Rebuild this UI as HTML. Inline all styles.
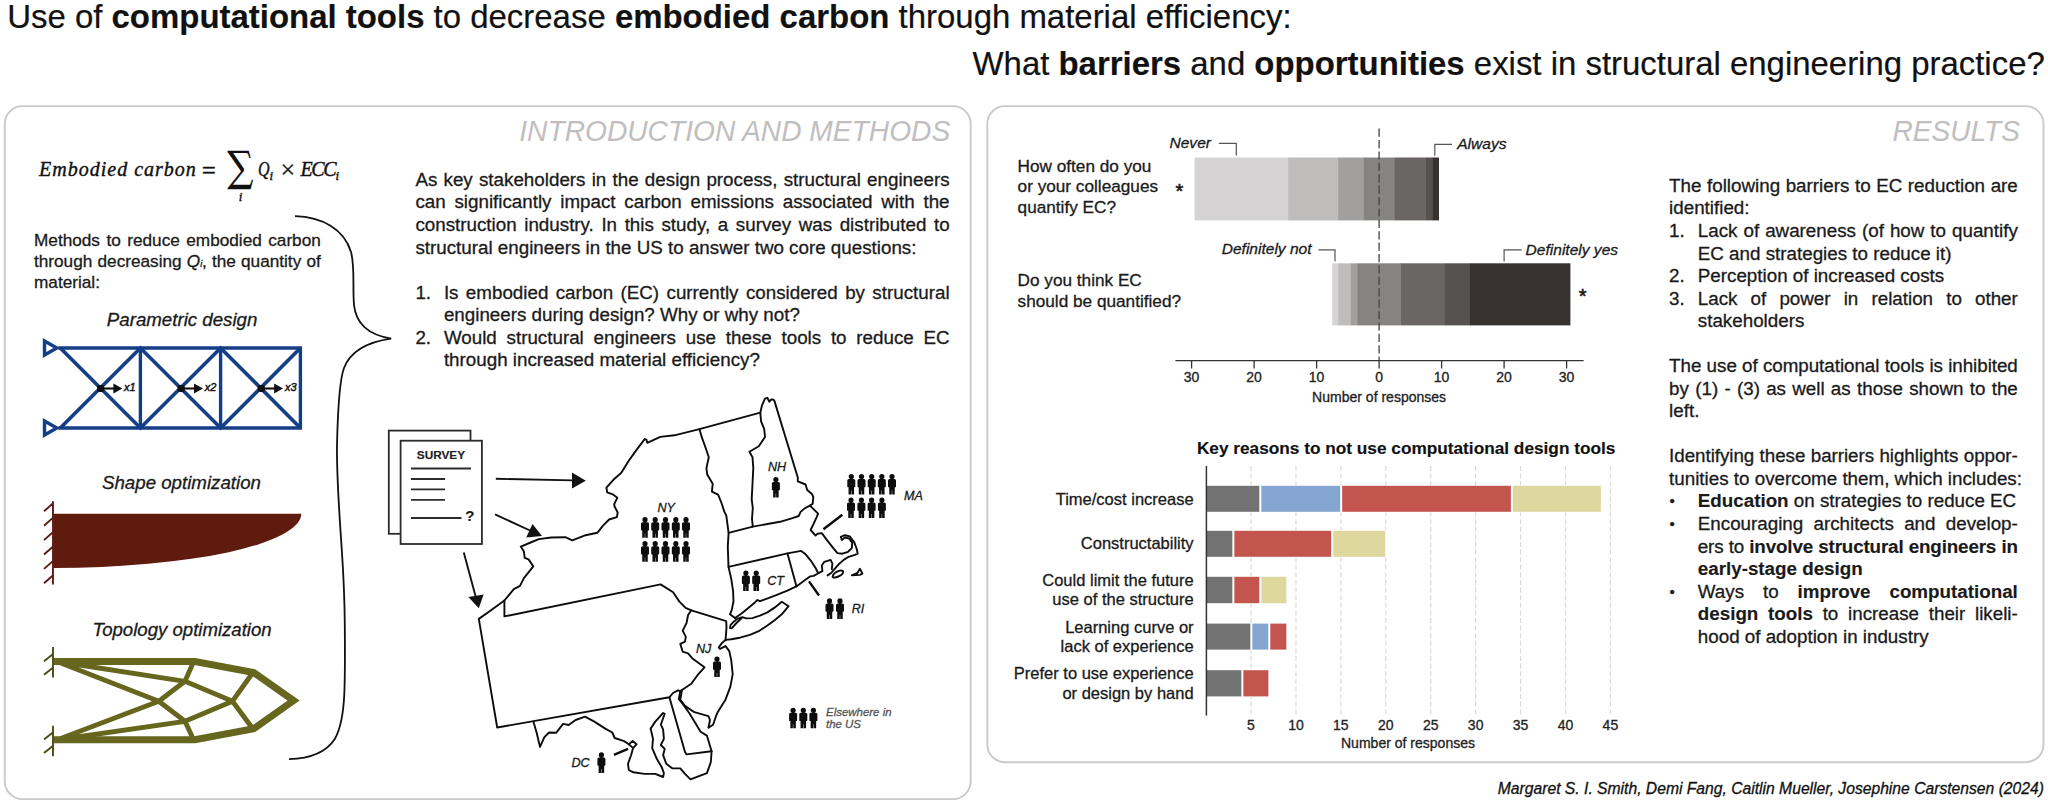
<!DOCTYPE html>
<html lang="en">
<head>
<meta charset="utf-8">
<title>Use of computational tools to decrease embodied carbon through material efficiency</title>
<style>
html,body{margin:0;padding:0;background:#fff;}
body{width:2048px;height:801px;position:relative;overflow:hidden;font-family:"Liberation Sans", sans-serif;color:#1a1a1a;}
#page div{position:absolute;white-space:nowrap;-webkit-text-stroke:0.3px currentColor;}
#page div b{-webkit-text-stroke:0.15px currentColor;}
svg{position:absolute;left:0;top:0;}
</style>
</head>
<body>
<div id="page">
<svg width="2048" height="801" viewBox="0 0 2048 801">
<rect x="4.75" y="106.1" width="965.95" height="693.0" rx="17.8" fill="#fff" stroke="#cbc9c9" stroke-width="1.9"/>
<rect x="987.3" y="106.1" width="1056.2" height="656.1" rx="17.8" fill="#fff" stroke="#cbc9c9" stroke-width="1.9"/>
<g id="truss" fill="none" stroke="#143f86" stroke-width="3.4" stroke-linejoin="miter">
<path d="M58.4 348H300.4V428H58.4M140.4 348V428M220.6 348V428"/>
<path d="M60.3 348L140.4 428L220.6 348L300.4 428M60.3 428L140.4 348L220.6 428L300.4 348" stroke-width="3.7"/>
<path d="M44.5 341V355L56.8 348ZM44.5 421V435L56.8 428Z" stroke-width="3.4"/>
</g>
<rect x="97.0" y="384.9" width="7.2" height="7.2" rx="2.4" fill="#111"/>
<path d="M103.6 388.5H114.6" stroke="#111" stroke-width="2.1" fill="none"/>
<path d="M113.4 383.6L122.4 388.5L113.4 393.4Z" fill="#111"/>
<rect x="177.6" y="384.9" width="7.2" height="7.2" rx="2.4" fill="#111"/>
<path d="M184.2 388.5H195.2" stroke="#111" stroke-width="2.1" fill="none"/>
<path d="M194.0 383.6L203.0 388.5L194.0 393.4Z" fill="#111"/>
<rect x="257.7" y="384.9" width="7.2" height="7.2" rx="2.4" fill="#111"/>
<path d="M264.3 388.5H275.3" stroke="#111" stroke-width="2.1" fill="none"/>
<path d="M274.1 383.6L283.1 388.5L274.1 393.4Z" fill="#111"/>
<path d="M53.5 513.8H301.3A247.8 54.2 0 0 1 53.5 568Z" fill="#601b0f"/>
<path d="M53 501.3V584.5M53.4 503.0L44 511.3M53.4 517.4L44 525.7M53.4 531.8L44 540.1M53.4 546.2L44 554.5M53.4 560.6L44 568.9M53.4 575.0L44 583.3" fill="none" stroke="#5a1c15" stroke-width="1.9"/>
<g id="topo" fill="none" stroke="#66661f" stroke-linejoin="round" stroke-linecap="round">
<path d="M53.6 661.6H195L253.8 672.6L293.6 700.6L253.8 728.6L195 739.8H53.6" stroke-width="7" stroke-linecap="butt" stroke-linejoin="miter"/>
<path d="M62 663.5L158.8 701.2L62 738M70 663.5L185 681.3M70 738L185 721.3M158.8 701.2L185 681.3M158.8 701.2L185 721.3M185 681.3L232.5 701.2L185 721.3M193 663L185 681.3M193 738.5L185 721.3M232.5 701.2L251.5 674.5M232.5 701.2L251.5 727" stroke-width="4.9"/>
</g>
<path d="M53 647V677.5M53 725.8V756.3M53.4 653.7L44 661.3M53.4 667.2L44 674.8M53.4 732.0L44 739.6M53.4 745.5L44 753.1" fill="none" stroke="#4c4c18" stroke-width="1.9"/>
<path d="M295 216.2C322 217 344 229 351 252C355 266 352.5 288 354 305C356 324 369 335 391.2 338.6C367 342 350.5 351 344 368C339.5 380 337.8 410 337 445C336.6 480 339.5 515 341.8 550C343.5 575 344.6 600 344.8 625C345 650 345.2 675 344.3 694C343.5 712 341 728 334.8 739C327 751 312 758.5 289 759.2" fill="none" stroke="#111" stroke-width="1.8"/>
<g fill="#fff" stroke="#2b2b2b" stroke-width="1.8">
<rect x="388.8" y="430.6" width="81.7" height="103.2"/>
<rect x="400.6" y="440.7" width="81.3" height="103.3"/>
<path d="M411 468.5H471M411 479H445M411 489.3H445M411 499.8H445M411 518H461.5" fill="none" stroke-width="1.8"/>
</g>
<g stroke="#111" stroke-width="1.9" fill="#111">
<path d="M495.8 478.8L573 480.4" fill="none"/><path d="M572 472.6L585.8 480.7L572 488.4Z" stroke="none"/>
<path d="M495 514.4L530 530.5" fill="none"/><path d="M532.5 524L542 536L526.2 537.5Z" stroke="none"/>
<path d="M463.8 552.5L475.5 596" fill="none"/><path d="M468.4 597L483.6 594.6L478.8 608.2Z" stroke="none"/>
</g>
<g id="map" fill="none" stroke="#0c0c0c" stroke-width="1.9" stroke-linejoin="round" stroke-linecap="round">
<path d="M644.7 439.2L646.4 439.6L647.2 442.8L660.3 436.9L674.4 435.3L699.4 429.1L701.7 436.9L705.6 447.8L708.8 457.2L706.4 468.1L707.2 474.4L712.7 483.8L711.9 491.6L718.1 494.7L721.5 503.0L724.4 511.9L726.3 515.6L728.6 532.8L727.8 546.9L728.5 566.9L731.2 578.7L733.1 591.2L733.5 601.2L731.8 609.9L730.0 614.3L735.0 618.1"/>
<path d="M644.7 439.2L636.9 449.4L629.1 460.3L621.3 472.8L613.4 479.8L606.4 487.7L607.2 492.3L613.4 494.7L617.3 497.8L614.2 504.1L614.5 506.3L617.7 512.5L616.9 517.2L609.1 519.5L602.8 525.8L597.3 532.8L585.6 535.2L572.3 540.3L565.3 537.2L551.3 537.5L538.8 539.1L529.4 543.0L520.8 546.6L523.9 551.6L524.7 557.8L528.6 559.4L533.3 566.4L523.9 578.1L520.0 585.9L513.8 589.1L504.4 600.5L490.0 611.0L478.8 618.9L497.2 727.5L669.4 697.3L673.0 693.0L678.0 690.3L680.3 691.1"/>
<path d="M504.4 600.5L504.4 616.4L660.6 584.4L673.1 592.2L679.4 601.6L685.6 607.8L691.3 610.3L712.5 616.8L726.2 621.2L726.5 627.4L725.6 639.9"/>
<path d="M691.3 610.3L688.1 615.0L686.6 622.8L682.7 630.6L685.8 636.9L685.0 641.6L680.3 643.9L682.7 651.7L688.1 653.3L692.8 658.8L704.5 667.3L697.5 675.2L691.3 683.8L681.9 690.0L680.3 691.1L678.8 698.9"/>
<path d="M725.6 639.9L722.5 642.4L718.7 647.4L720.0 648.9L725.6 646.1L729.3 651.1L731.2 659.9L732.7 674.4L730.3 686.9L725.6 699.4L717.8 711.9L716.3 715.3L713.1 724.7L708.4 727.8L710.0 720.0L708.4 716.1L694.4 712.2L685.0 705.9L680.3 699.7L681.9 690.3"/>
<path d="M725.6 639.9L731.2 639.3L739.9 637.7L749.9 634.9L758.7 631.2L767.4 625.5L774.9 619.9L782.4 613.7L788.6 606.2L781.8 601.8L774.9 607.4L767.4 612.4L759.9 615.6L752.4 618.1L746.2 618.4L742.4 617.2L737.5 618.7L734.3 621.2L730.6 624.9L730.0 628.0L731.6 628.4L736.0 623.5L742.4 617.2"/>
<path d="M699.4 429.1L760.3 412.7L761.9 405.6L765.0 398.6L767.3 397.8L769.4 401.7L771.3 399.4L773.6 399.7L774.4 400.9L797.8 477.5L797.8 481.4L805.6 484.5L807.2 490.0L811.9 493.9L813.3 497.0L812.7 503.7L810.0 505.6L818.1 513.7L816.8 516.9L813.7 523.7L810.6 530.0L815.6 535.6L817.5 533.7L821.8 533.1L827.4 540.6L833.7 548.7L837.4 553.1L842.4 553.7L848.0 551.8L851.8 548.1L852.2 543.1L849.3 538.7L844.9 537.5L841.8 540.0L840.8 536.8L844.9 535.2L849.9 536.5L854.3 542.4L856.8 549.3L857.7 553.7L854.9 554.9L848.7 556.8L843.7 559.9L838.7 564.3L834.9 568.7L831.2 573.0L827.6 575.4"/>
<path d="M760.3 412.7L761.1 421.3L764.2 429.1L765.0 436.9L758.8 446.3L749.4 451.7L752.5 457.2L753.3 468.1L752.5 483.8L751.7 499.4L752.8 507.8L752.0 518.8L752.8 526.6"/>
<path d="M728.6 532.8L752.8 526.6L780.0 521.8L792.5 518.1L798.7 516.0L800.6 511.9L805.0 508.1L810.0 505.6"/>
<path d="M728.5 566.9L787.5 553.4L801.2 550.9L805.0 553.7L811.2 561.2L815.6 568.0L818.1 573.0"/>
<path d="M787.5 553.4L796.5 586.5"/>
<path d="M735.0 618.1L741.2 613.7L747.4 608.7L754.9 602.4L757.4 600.0L759.9 601.2L774.9 595.6L787.4 590.6L796.8 586.2L803.7 581.1L810.0 576.4L813.7 575.9L817.5 573.7L822.4 571.2L821.8 565.5L824.3 561.8L830.6 559.9L832.4 563.7L831.8 569.3"/>
<path d="M832.6 576.4C833.3 573.7 836.8 571.4 839.8 570.6C842.3 570 843.8 571.2 843 572.8C841.8 575.2 837.8 577.2 835 577.5C833.3 577.7 832.3 577.4 832.6 576.4Z"/>
<path d="M851.8 575.3L857.4 573.0L859.9 568.7L862.4 573.7L859.9 574.9Z"/>
<path d="M669.4 697.3L685.0 752.0L686.6 754.4L711.6 751.3"/>
<path d="M678.8 698.9L681.9 702.8L689.7 713.8L694.4 721.6L700.6 731.7L706.9 735.6L711.6 751.3L710.8 762.2L706.9 773.1L690.5 779.4L685.0 773.9L680.3 768.4L672.5 768.4L666.3 763.8L663.1 755.2L664.7 748.9L660.8 745.0L663.9 738.8L663.1 729.4L660.8 724.7L664.7 713.8L663.1 713.0L655.3 721.6L650.6 728.6L653.0 738.8L652.2 748.1L656.9 759.1L661.6 766.9L663.9 773.1L663.1 777.0L655.3 773.9L644.4 773.9L633.4 772.3L628.8 770.0L628.0 763.8L631.1 755.2L633.1 748.1L636.6 744.2L632.7 741.1L628.8 744.2L633.1 748.1"/>
<path d="M628.8 744.2L624.1 741.1L614.7 738.0L612.3 732.5L605.3 728.6L594.4 721.6L585.0 716.6L575.6 720.0L568.6 725.0L563.1 723.9L556.1 732.8L549.1 732.5L544.4 737.2L540.0 746.9L536.6 732.5L533.4 721.6"/>
<path d="M823.4 529.3L842.4 514.7M809 581.4L819 595.5M613.9 754.8L628 748.9" stroke-width="2.4" stroke-linecap="butt"/>
</g>
<g id="people" fill="#0d0d0d">
<circle cx="645.00" cy="519.70" r="2.60"/><path d="M643.80 521.20H646.20V522.20H647.50Q649.00 522.20 649.00 523.70V529.60Q649.00 530.50 648.10 530.50H647.75V537.70H645.20V533.70H644.80V537.70H642.25V530.50H641.90Q641.00 530.50 641.00 529.60V523.70Q641.00 522.20 642.50 522.20H643.80Z"/>
<circle cx="645.00" cy="543.70" r="2.60"/><path d="M643.80 545.20H646.20V546.20H647.50Q649.00 546.20 649.00 547.70V553.60Q649.00 554.50 648.10 554.50H647.75V561.70H645.20V557.70H644.80V561.70H642.25V554.50H641.90Q641.00 554.50 641.00 553.60V547.70Q641.00 546.20 642.50 546.20H643.80Z"/>
<circle cx="655.20" cy="519.70" r="2.60"/><path d="M654.00 521.20H656.40V522.20H657.70Q659.20 522.20 659.20 523.70V529.60Q659.20 530.50 658.30 530.50H657.95V537.70H655.40V533.70H655.00V537.70H652.45V530.50H652.10Q651.20 530.50 651.20 529.60V523.70Q651.20 522.20 652.70 522.20H654.00Z"/>
<circle cx="655.20" cy="543.70" r="2.60"/><path d="M654.00 545.20H656.40V546.20H657.70Q659.20 546.20 659.20 547.70V553.60Q659.20 554.50 658.30 554.50H657.95V561.70H655.40V557.70H655.00V561.70H652.45V554.50H652.10Q651.20 554.50 651.20 553.60V547.70Q651.20 546.20 652.70 546.20H654.00Z"/>
<circle cx="665.50" cy="519.70" r="2.60"/><path d="M664.30 521.20H666.70V522.20H668.00Q669.50 522.20 669.50 523.70V529.60Q669.50 530.50 668.60 530.50H668.25V537.70H665.70V533.70H665.30V537.70H662.75V530.50H662.40Q661.50 530.50 661.50 529.60V523.70Q661.50 522.20 663.00 522.20H664.30Z"/>
<circle cx="665.50" cy="543.70" r="2.60"/><path d="M664.30 545.20H666.70V546.20H668.00Q669.50 546.20 669.50 547.70V553.60Q669.50 554.50 668.60 554.50H668.25V561.70H665.70V557.70H665.30V561.70H662.75V554.50H662.40Q661.50 554.50 661.50 553.60V547.70Q661.50 546.20 663.00 546.20H664.30Z"/>
<circle cx="675.80" cy="519.70" r="2.60"/><path d="M674.60 521.20H677.00V522.20H678.30Q679.80 522.20 679.80 523.70V529.60Q679.80 530.50 678.90 530.50H678.55V537.70H676.00V533.70H675.60V537.70H673.05V530.50H672.70Q671.80 530.50 671.80 529.60V523.70Q671.80 522.20 673.30 522.20H674.60Z"/>
<circle cx="675.80" cy="543.70" r="2.60"/><path d="M674.60 545.20H677.00V546.20H678.30Q679.80 546.20 679.80 547.70V553.60Q679.80 554.50 678.90 554.50H678.55V561.70H676.00V557.70H675.60V561.70H673.05V554.50H672.70Q671.80 554.50 671.80 553.60V547.70Q671.80 546.20 673.30 546.20H674.60Z"/>
<circle cx="686.00" cy="519.70" r="2.60"/><path d="M684.80 521.20H687.20V522.20H688.50Q690.00 522.20 690.00 523.70V529.60Q690.00 530.50 689.10 530.50H688.75V537.70H686.20V533.70H685.80V537.70H683.25V530.50H682.90Q682.00 530.50 682.00 529.60V523.70Q682.00 522.20 683.50 522.20H684.80Z"/>
<circle cx="686.00" cy="543.70" r="2.60"/><path d="M684.80 545.20H687.20V546.20H688.50Q690.00 546.20 690.00 547.70V553.60Q690.00 554.50 689.10 554.50H688.75V561.70H686.20V557.70H685.80V561.70H683.25V554.50H682.90Q682.00 554.50 682.00 553.60V547.70Q682.00 546.20 683.50 546.20H684.80Z"/>
<circle cx="851.30" cy="476.50" r="2.60"/><path d="M850.10 478.00H852.50V479.00H853.80Q855.30 479.00 855.30 480.50V486.40Q855.30 487.30 854.40 487.30H854.05V494.50H851.50V490.50H851.10V494.50H848.55V487.30H848.20Q847.30 487.30 847.30 486.40V480.50Q847.30 479.00 848.80 479.00H850.10Z"/>
<circle cx="861.50" cy="476.50" r="2.60"/><path d="M860.30 478.00H862.70V479.00H864.00Q865.50 479.00 865.50 480.50V486.40Q865.50 487.30 864.60 487.30H864.25V494.50H861.70V490.50H861.30V494.50H858.75V487.30H858.40Q857.50 487.30 857.50 486.40V480.50Q857.50 479.00 859.00 479.00H860.30Z"/>
<circle cx="871.70" cy="476.50" r="2.60"/><path d="M870.50 478.00H872.90V479.00H874.20Q875.70 479.00 875.70 480.50V486.40Q875.70 487.30 874.80 487.30H874.45V494.50H871.90V490.50H871.50V494.50H868.95V487.30H868.60Q867.70 487.30 867.70 486.40V480.50Q867.70 479.00 869.20 479.00H870.50Z"/>
<circle cx="881.80" cy="476.50" r="2.60"/><path d="M880.60 478.00H883.00V479.00H884.30Q885.80 479.00 885.80 480.50V486.40Q885.80 487.30 884.90 487.30H884.55V494.50H882.00V490.50H881.60V494.50H879.05V487.30H878.70Q877.80 487.30 877.80 486.40V480.50Q877.80 479.00 879.30 479.00H880.60Z"/>
<circle cx="892.00" cy="476.50" r="2.60"/><path d="M890.80 478.00H893.20V479.00H894.50Q896.00 479.00 896.00 480.50V486.40Q896.00 487.30 895.10 487.30H894.75V494.50H892.20V490.50H891.80V494.50H889.25V487.30H888.90Q888.00 487.30 888.00 486.40V480.50Q888.00 479.00 889.50 479.00H890.80Z"/>
<circle cx="851.00" cy="500.00" r="2.60"/><path d="M849.80 501.50H852.20V502.50H853.50Q855.00 502.50 855.00 504.00V509.90Q855.00 510.80 854.10 510.80H853.75V518.00H851.20V514.00H850.80V518.00H848.25V510.80H847.90Q847.00 510.80 847.00 509.90V504.00Q847.00 502.50 848.50 502.50H849.80Z"/>
<circle cx="861.40" cy="500.00" r="2.60"/><path d="M860.20 501.50H862.60V502.50H863.90Q865.40 502.50 865.40 504.00V509.90Q865.40 510.80 864.50 510.80H864.15V518.00H861.60V514.00H861.20V518.00H858.65V510.80H858.30Q857.40 510.80 857.40 509.90V504.00Q857.40 502.50 858.90 502.50H860.20Z"/>
<circle cx="871.60" cy="500.00" r="2.60"/><path d="M870.40 501.50H872.80V502.50H874.10Q875.60 502.50 875.60 504.00V509.90Q875.60 510.80 874.70 510.80H874.35V518.00H871.80V514.00H871.40V518.00H868.85V510.80H868.50Q867.60 510.80 867.60 509.90V504.00Q867.60 502.50 869.10 502.50H870.40Z"/>
<circle cx="881.90" cy="500.00" r="2.60"/><path d="M880.70 501.50H883.10V502.50H884.40Q885.90 502.50 885.90 504.00V509.90Q885.90 510.80 885.00 510.80H884.65V518.00H882.10V514.00H881.70V518.00H879.15V510.80H878.80Q877.90 510.80 877.90 509.90V504.00Q877.90 502.50 879.40 502.50H880.70Z"/>
<circle cx="775.90" cy="479.50" r="2.60"/><path d="M774.70 481.00H777.10V482.00H778.40Q779.90 482.00 779.90 483.50V489.40Q779.90 490.30 779.00 490.30H778.65V497.50H776.10V493.50H775.70V497.50H773.15V490.30H772.80Q771.90 490.30 771.90 489.40V483.50Q771.90 482.00 773.40 482.00H774.70Z"/>
<circle cx="745.90" cy="573.10" r="2.60"/><path d="M744.70 574.60H747.10V575.60H748.40Q749.90 575.60 749.90 577.10V583.00Q749.90 583.90 749.00 583.90H748.65V591.10H746.10V587.10H745.70V591.10H743.15V583.90H742.80Q741.90 583.90 741.90 583.00V577.10Q741.90 575.60 743.40 575.60H744.70Z"/>
<circle cx="756.20" cy="573.10" r="2.60"/><path d="M755.00 574.60H757.40V575.60H758.70Q760.20 575.60 760.20 577.10V583.00Q760.20 583.90 759.30 583.90H758.95V591.10H756.40V587.10H756.00V591.10H753.45V583.90H753.10Q752.20 583.90 752.20 583.00V577.10Q752.20 575.60 753.70 575.60H755.00Z"/>
<circle cx="829.50" cy="600.90" r="2.60"/><path d="M828.30 602.40H830.70V603.40H832.00Q833.50 603.40 833.50 604.90V610.80Q833.50 611.70 832.60 611.70H832.25V618.90H829.70V614.90H829.30V618.90H826.75V611.70H826.40Q825.50 611.70 825.50 610.80V604.90Q825.50 603.40 827.00 603.40H828.30Z"/>
<circle cx="840.00" cy="600.90" r="2.60"/><path d="M838.80 602.40H841.20V603.40H842.50Q844.00 603.40 844.00 604.90V610.80Q844.00 611.70 843.10 611.70H842.75V618.90H840.20V614.90H839.80V618.90H837.25V611.70H836.90Q836.00 611.70 836.00 610.80V604.90Q836.00 603.40 837.50 603.40H838.80Z"/>
<circle cx="717.00" cy="659.00" r="2.60"/><path d="M715.80 660.50H718.20V661.50H719.50Q721.00 661.50 721.00 663.00V668.90Q721.00 669.80 720.10 669.80H719.75V677.00H717.20V673.00H716.80V677.00H714.25V669.80H713.90Q713.00 669.80 713.00 668.90V663.00Q713.00 661.50 714.50 661.50H715.80Z"/>
<circle cx="601.40" cy="754.90" r="2.60"/><path d="M600.20 756.40H602.60V757.40H603.90Q605.40 757.40 605.40 758.90V764.80Q605.40 765.70 604.50 765.70H604.15V772.90H601.60V768.90H601.20V772.90H598.65V765.70H598.30Q597.40 765.70 597.40 764.80V758.90Q597.40 757.40 598.90 757.40H600.20Z"/>
<circle cx="793.10" cy="710.30" r="2.60"/><path d="M791.90 711.80H794.30V712.80H795.60Q797.10 712.80 797.10 714.30V720.20Q797.10 721.10 796.20 721.10H795.85V728.30H793.30V724.30H792.90V728.30H790.35V721.10H790.00Q789.10 721.10 789.10 720.20V714.30Q789.10 712.80 790.60 712.80H791.90Z"/>
<circle cx="803.30" cy="710.30" r="2.60"/><path d="M802.10 711.80H804.50V712.80H805.80Q807.30 712.80 807.30 714.30V720.20Q807.30 721.10 806.40 721.10H806.05V728.30H803.50V724.30H803.10V728.30H800.55V721.10H800.20Q799.30 721.10 799.30 720.20V714.30Q799.30 712.80 800.80 712.80H802.10Z"/>
<circle cx="813.40" cy="710.30" r="2.60"/><path d="M812.20 711.80H814.60V712.80H815.90Q817.40 712.80 817.40 714.30V720.20Q817.40 721.10 816.50 721.10H816.15V728.30H813.60V724.30H813.20V728.30H810.65V721.10H810.30Q809.40 721.10 809.40 720.20V714.30Q809.40 712.80 810.90 712.80H812.20Z"/>
</g>
<g id="chart1">
<rect x="1194.6" y="157.5" width="93.8" height="62.9" fill="#d5d3d3"/>
<rect x="1288.1" y="157.5" width="50.3" height="62.9" fill="#bfbcbc"/>
<rect x="1338.1" y="157.5" width="25.7" height="62.9" fill="#a29f9f"/>
<rect x="1363.5" y="157.5" width="31.5" height="62.9" fill="#868483"/>
<rect x="1394.7" y="157.5" width="31.6" height="62.9" fill="#6a6665"/>
<rect x="1426.0" y="157.5" width="7.1" height="62.9" fill="#565251"/>
<rect x="1432.8" y="157.5" width="6.2" height="62.9" fill="#37322f"/>
<rect x="1332.2" y="263.3" width="6.2" height="62.1" fill="#d5d3d3"/>
<rect x="1338.1" y="263.3" width="13.0" height="62.1" fill="#bfbcbc"/>
<rect x="1350.8" y="263.3" width="6.7" height="62.1" fill="#a29f9f"/>
<rect x="1357.2" y="263.3" width="44.1" height="62.1" fill="#868483"/>
<rect x="1401.0" y="263.3" width="44.2" height="62.1" fill="#6a6665"/>
<rect x="1444.9" y="263.3" width="25.3" height="62.1" fill="#565251"/>
<rect x="1469.9" y="263.3" width="100.5" height="62.1" fill="#37322f"/>
</g>
<g fill="none" stroke="#444" stroke-width="1.3">
<path d="M1379.1 128.6V360.6" stroke-dasharray="8.2 3.2"/>
<path d="M1175.4 360.6H1583.6" stroke="#333" stroke-width="1.4"/>
<path d="M1191.60 360.6v7.8M1254.10 360.6v7.8M1316.60 360.6v7.8M1379.10 360.6v7.8M1441.60 360.6v7.8M1504.10 360.6v7.8M1566.60 360.6v7.8" stroke="#333"/>
<path d="M1218.8 143.4H1236.3V155.5M1452 144.3H1434.8V155.8M1318.4 249.8H1335V261.5M1521.7 249.8H1504.1V261.5" stroke="#555" stroke-width="1.2"/>
</g>
<path d="M1251.02 466V716.5M1295.95 466V716.5M1340.88 466V716.5M1385.80 466V716.5M1430.72 466V716.5M1475.65 466V716.5M1520.57 466V716.5M1565.50 466V716.5M1610.42 466V716.5" fill="none" stroke="#dadada" stroke-width="1.2" stroke-dasharray="5 2.6"/>
<g id="chart2">
<rect x="1206.70" y="485.2" width="396.24" height="27.2" fill="#fff"/>
<rect x="1206.70" y="485.8" width="52.61" height="26.0" fill="#727272"/>
<rect x="1261.31" y="485.8" width="78.87" height="26.0" fill="#86a6d2"/>
<rect x="1342.17" y="485.8" width="168.71" height="26.0" fill="#c4554e"/>
<rect x="1512.89" y="485.8" width="87.95" height="26.0" fill="#ded89f"/>
<rect x="1206.70" y="530.2" width="180.60" height="27.2" fill="#fff"/>
<rect x="1206.70" y="530.8" width="25.65" height="26.0" fill="#727272"/>
<rect x="1234.35" y="530.8" width="96.84" height="26.0" fill="#c4554e"/>
<rect x="1333.19" y="530.8" width="52.01" height="26.0" fill="#ded89f"/>
<rect x="1206.70" y="576.2" width="81.77" height="27.6" fill="#fff"/>
<rect x="1206.70" y="576.8" width="25.65" height="26.4" fill="#727272"/>
<rect x="1234.35" y="576.8" width="24.96" height="26.4" fill="#c4554e"/>
<rect x="1261.31" y="576.8" width="25.06" height="26.4" fill="#ded89f"/>
<rect x="1206.70" y="623.0" width="81.77" height="27.2" fill="#fff"/>
<rect x="1206.70" y="623.6" width="43.62" height="26.0" fill="#727272"/>
<rect x="1252.32" y="623.6" width="15.97" height="26.0" fill="#86a6d2"/>
<rect x="1270.29" y="623.6" width="16.07" height="26.0" fill="#c4554e"/>
<rect x="1206.70" y="669.6" width="63.79" height="27.4" fill="#fff"/>
<rect x="1206.70" y="670.2" width="34.64" height="26.2" fill="#727272"/>
<rect x="1243.34" y="670.2" width="25.06" height="26.2" fill="#c4554e"/>
</g>
<path d="M1206.3999999999999 466V715.6" fill="none" stroke="#333" stroke-width="1.5"/>
</svg>
<div style="left:7.20px;top:-3px;font-size:32.95px;line-height:39px;color:#111;-webkit-text-stroke:0.2px currentColor;">Use of <b>computational tools</b> to decrease <b>embodied carbon</b> through material efficiency:</div>
<div style="left:972.50px;top:44px;font-size:32.93px;line-height:39px;color:#111;-webkit-text-stroke:0.2px currentColor;">What <b>barriers</b> and <b>opportunities</b> exist in structural engineering practice?</div>
<div style="left:519.30px;top:114px;font-size:28.18px;line-height:34px;color:#c0bebe;transform:scaleY(1.075);transform-origin:0 27px;-webkit-text-stroke:0;"><i>INTRODUCTION AND METHODS</i></div>
<div style="left:1892.40px;top:115px;font-size:28.1px;line-height:33px;color:#c0bebe;transform:scaleY(1.075);transform-origin:0 26px;-webkit-text-stroke:0;"><i>RESULTS</i></div>
<div style="left:415.40px;top:168px;font-size:18.8px;line-height:23px;width:534.20px;text-align:justify;text-align-last:justify;">As key stakeholders in the design process, structural engineers</div>
<div style="left:415.40px;top:190px;font-size:18.8px;line-height:23px;width:534.20px;text-align:justify;text-align-last:justify;">can significantly impact carbon emissions associated with the</div>
<div style="left:415.40px;top:213px;font-size:18.8px;line-height:23px;width:534.20px;text-align:justify;text-align-last:justify;">construction industry. In this study, a survey was distributed to</div>
<div style="left:415.40px;top:236px;font-size:18.8px;line-height:23px;">structural engineers in the US to answer two core questions:</div>
<div style="left:415.40px;top:281px;font-size:18.8px;line-height:23px;">1.</div>
<div style="left:443.90px;top:281px;font-size:18.8px;line-height:23px;width:505.70px;text-align:justify;text-align-last:justify;">Is embodied carbon (EC) currently considered by structural</div>
<div style="left:443.90px;top:303px;font-size:18.8px;line-height:23px;">engineers during design? Why or why not?</div>
<div style="left:415.40px;top:326px;font-size:18.8px;line-height:23px;">2.</div>
<div style="left:443.90px;top:326px;font-size:18.8px;line-height:23px;width:505.70px;text-align:justify;text-align-last:justify;">Would structural engineers use these tools to reduce EC</div>
<div style="left:443.90px;top:348px;font-size:18.8px;line-height:23px;">through increased material efficiency?</div>
<div style="left:1669.10px;top:174px;font-size:18.8px;line-height:23px;width:348.70px;text-align:justify;text-align-last:justify;">The following barriers to EC reduction are</div>
<div style="left:1669.10px;top:196px;font-size:18.8px;line-height:23px;">identified:</div>
<div style="left:1669.10px;top:219px;font-size:18.8px;line-height:23px;">1.</div>
<div style="left:1697.80px;top:219px;font-size:18.8px;line-height:23px;width:320.00px;text-align:justify;text-align-last:justify;">Lack of awareness (of how to quantify</div>
<div style="left:1697.80px;top:242px;font-size:18.8px;line-height:23px;">EC and strategies to reduce it)</div>
<div style="left:1669.10px;top:264px;font-size:18.8px;line-height:23px;">2.</div>
<div style="left:1697.80px;top:264px;font-size:18.8px;line-height:23px;">Perception of increased costs</div>
<div style="left:1669.10px;top:287px;font-size:18.8px;line-height:23px;">3.</div>
<div style="left:1697.80px;top:287px;font-size:18.8px;line-height:23px;width:320.00px;text-align:justify;text-align-last:justify;">Lack of power in relation to other</div>
<div style="left:1697.80px;top:309px;font-size:18.8px;line-height:23px;">stakeholders</div>
<div style="left:1669.10px;top:354px;font-size:18.8px;line-height:23px;width:348.70px;text-align:justify;text-align-last:justify;"><span style="letter-spacing:-0.04px">The use of computational tools is inhibited</span></div>
<div style="left:1669.10px;top:377px;font-size:18.8px;line-height:23px;width:348.70px;text-align:justify;text-align-last:justify;">by (1) - (3) as well as those shown to the</div>
<div style="left:1669.10px;top:399px;font-size:18.8px;line-height:23px;">left.</div>
<div style="left:1669.10px;top:444px;font-size:18.8px;line-height:23px;width:348.70px;text-align:justify;text-align-last:justify;"><span style="letter-spacing:-0.04px">Identifying these barriers highlights oppor-</span></div>
<div style="left:1669.10px;top:467px;font-size:18.8px;line-height:23px;">tunities to overcome them, which includes:</div>
<div style="left:1669.60px;top:492px;font-size:15px;line-height:17px;">&bull;</div>
<div style="left:1697.80px;top:489px;font-size:18.8px;line-height:23px;"><b>Education</b> on strategies to reduce EC</div>
<div style="left:1669.60px;top:515px;font-size:15px;line-height:17px;">&bull;</div>
<div style="left:1697.80px;top:512px;font-size:18.8px;line-height:23px;width:320.00px;text-align:justify;text-align-last:justify;">Encouraging architects and develop-</div>
<div style="left:1697.80px;top:535px;font-size:18.8px;line-height:23px;width:320.00px;text-align:justify;text-align-last:justify;"><span style="letter-spacing:-0.14px">ers to <b>involve structural engineers in</b></span></div>
<div style="left:1697.80px;top:557px;font-size:18.8px;line-height:23px;"><b>early-stage design</b></div>
<div style="left:1669.60px;top:583px;font-size:15px;line-height:17px;">&bull;</div>
<div style="left:1697.80px;top:580px;font-size:18.8px;line-height:23px;width:320.00px;text-align:justify;text-align-last:justify;">Ways to <b>improve computational</b></div>
<div style="left:1697.80px;top:602px;font-size:18.8px;line-height:23px;width:320.00px;text-align:justify;text-align-last:justify;"><b>design tools</b> to increase their likeli-</div>
<div style="left:1697.80px;top:625px;font-size:18.8px;line-height:23px;">hood of adoption in industry</div>
<div style="left:34.00px;top:230px;font-size:17.2px;line-height:20px;width:286.80px;text-align:justify;text-align-last:justify;">Methods to reduce embodied carbon</div>
<div style="left:34.00px;top:251px;font-size:17.2px;line-height:20px;width:286.80px;text-align:justify;text-align-last:justify;">through decreasing <i>Q<span style="font-size:9px;letter-spacing:-0.3px">i</span></i>, the quantity of</div>
<div style="left:34.00px;top:272px;font-size:17.2px;line-height:20px;">material:</div>
<div style="left:106.80px;top:308px;font-size:18.7px;line-height:23px;"><i>Parametric design</i></div>
<div style="left:102.00px;top:471px;font-size:18.7px;line-height:23px;"><i>Shape optimization</i></div>
<div style="left:92.50px;top:618px;font-size:18.6px;line-height:23px;"><i>Topology optimization</i></div>
<div style="left:39.10px;top:157px;font-size:20px;line-height:24px;color:#111;font-family:'Liberation Serif','DejaVu Serif',serif;font-style:italic;-webkit-text-stroke:0.4px currentColor;letter-spacing:1.0px;">Embodied carbon</div>
<div style="left:201.80px;top:156px;font-size:25px;line-height:30px;color:#111;font-family:'Liberation Serif',serif;-webkit-text-stroke:0.3px currentColor;">=</div>
<div style="left:225.30px;top:148px;font-size:36.5px;line-height:43px;color:#111;font-family:'DejaVu Math TeX Gyre','DejaVu Serif',serif;-webkit-text-stroke:0;transform:scaleX(0.86);transform-origin:0 0;">&sum;</div>
<div style="left:238.80px;top:189px;font-size:13px;line-height:15px;color:#111;font-family:'Liberation Serif','DejaVu Serif',serif;font-style:italic;-webkit-text-stroke:0.4px currentColor;">i</div>
<div style="left:258.00px;top:157px;font-size:20px;line-height:24px;color:#111;font-family:'Liberation Serif','DejaVu Serif',serif;font-style:italic;-webkit-text-stroke:0.4px currentColor;transform:scaleX(0.8);transform-origin:0 0;">Q</div>
<div style="left:269.60px;top:168px;font-size:13px;line-height:15px;color:#111;font-family:'Liberation Serif','DejaVu Serif',serif;font-style:italic;-webkit-text-stroke:0.4px currentColor;">i</div>
<div style="left:280.60px;top:154px;font-size:26px;line-height:32px;color:#111;font-family:'Liberation Serif',serif;-webkit-text-stroke:0.25px currentColor;">&times;</div>
<div style="left:300.50px;top:157px;font-size:20px;line-height:24px;color:#111;font-family:'Liberation Serif','DejaVu Serif',serif;font-style:italic;-webkit-text-stroke:0.4px currentColor;letter-spacing:-1.4px;">ECC</div>
<div style="left:335.60px;top:168px;font-size:13px;line-height:15px;color:#111;font-family:'Liberation Serif','DejaVu Serif',serif;font-style:italic;-webkit-text-stroke:0.4px currentColor;">i</div>
<div style="left:1497.80px;top:779px;font-size:15.68px;line-height:19px;color:#111;"><i>Margaret S. I. Smith, Demi Fang, Caitlin Mueller, Josephine Carstensen (2024)</i></div>
<div style="left:1017.60px;top:156px;font-size:17.2px;line-height:20px;">How often do you</div>
<div style="left:1017.60px;top:176px;font-size:17.2px;line-height:20px;">or your colleagues</div>
<div style="left:1017.60px;top:197px;font-size:17.2px;line-height:20px;">quantify EC?</div>
<div style="left:1017.60px;top:270px;font-size:17.2px;line-height:20px;">Do you think EC</div>
<div style="left:1017.60px;top:291px;font-size:17.2px;line-height:20px;">should be quantified?</div>
<div style="left:1175.40px;top:179px;font-size:20px;line-height:24px;-webkit-text-stroke:0.6px currentColor;">*</div>
<div style="left:1578.80px;top:284px;font-size:20px;line-height:24px;-webkit-text-stroke:0.6px currentColor;">*</div>
<div style="left:1169.50px;top:133px;font-size:15.55px;line-height:19px;"><i>Never</i></div>
<div style="left:1457.20px;top:134px;font-size:15.55px;line-height:19px;"><i>Always</i></div>
<div style="left:1221.70px;top:239px;font-size:15.55px;line-height:19px;"><i>Definitely not</i></div>
<div style="left:1525.60px;top:240px;font-size:15.55px;line-height:19px;"><i>Definitely yes</i></div>
<div style="left:1161.60px;top:369px;font-size:14px;line-height:16px;width:60.00px;text-align:center;color:#222;">30</div>
<div style="left:1224.10px;top:369px;font-size:14px;line-height:16px;width:60.00px;text-align:center;color:#222;">20</div>
<div style="left:1286.60px;top:369px;font-size:14px;line-height:16px;width:60.00px;text-align:center;color:#222;">10</div>
<div style="left:1349.10px;top:369px;font-size:14px;line-height:16px;width:60.00px;text-align:center;color:#222;">0</div>
<div style="left:1411.60px;top:369px;font-size:14px;line-height:16px;width:60.00px;text-align:center;color:#222;">10</div>
<div style="left:1474.10px;top:369px;font-size:14px;line-height:16px;width:60.00px;text-align:center;color:#222;">20</div>
<div style="left:1536.60px;top:369px;font-size:14px;line-height:16px;width:60.00px;text-align:center;color:#222;">30</div>
<div style="left:1312.10px;top:389px;font-size:14.02px;line-height:16px;color:#222;">Number of responses</div>
<div style="left:1196.90px;top:438px;font-size:17.24px;line-height:20px;color:#111;"><b>Key reasons to not use computational design tools</b></div>
<div style="left:893.60px;top:489px;font-size:16.5px;line-height:20px;width:300.00px;text-align:right;">Time/cost increase</div>
<div style="left:893.60px;top:533px;font-size:16.5px;line-height:20px;width:300.00px;text-align:right;">Constructability</div>
<div style="left:893.60px;top:570px;font-size:16.5px;line-height:20px;width:300.00px;text-align:right;">Could limit the future</div>
<div style="left:893.60px;top:589px;font-size:16.5px;line-height:20px;width:300.00px;text-align:right;">use of the structure</div>
<div style="left:893.60px;top:617px;font-size:16.5px;line-height:20px;width:300.00px;text-align:right;">Learning curve or</div>
<div style="left:893.60px;top:636px;font-size:16.5px;line-height:20px;width:300.00px;text-align:right;">lack of experience</div>
<div style="left:893.60px;top:663px;font-size:16.5px;line-height:20px;width:300.00px;text-align:right;">Prefer to use experience</div>
<div style="left:893.60px;top:683px;font-size:16.5px;line-height:20px;width:300.00px;text-align:right;">or design by hand</div>
<div style="left:1221.02px;top:717px;font-size:14px;line-height:16px;width:60.00px;text-align:center;color:#222;">5</div>
<div style="left:1265.95px;top:717px;font-size:14px;line-height:16px;width:60.00px;text-align:center;color:#222;">10</div>
<div style="left:1310.88px;top:717px;font-size:14px;line-height:16px;width:60.00px;text-align:center;color:#222;">15</div>
<div style="left:1355.80px;top:717px;font-size:14px;line-height:16px;width:60.00px;text-align:center;color:#222;">20</div>
<div style="left:1400.72px;top:717px;font-size:14px;line-height:16px;width:60.00px;text-align:center;color:#222;">25</div>
<div style="left:1445.65px;top:717px;font-size:14px;line-height:16px;width:60.00px;text-align:center;color:#222;">30</div>
<div style="left:1490.57px;top:717px;font-size:14px;line-height:16px;width:60.00px;text-align:center;color:#222;">35</div>
<div style="left:1535.50px;top:717px;font-size:14px;line-height:16px;width:60.00px;text-align:center;color:#222;">40</div>
<div style="left:1580.42px;top:717px;font-size:14px;line-height:16px;width:60.00px;text-align:center;color:#222;">45</div>
<div style="left:1341.00px;top:735px;font-size:14.02px;line-height:16px;color:#222;">Number of responses</div>
<div style="left:416.80px;top:448px;font-size:11.8px;line-height:14px;color:#222;"><b>SURVEY</b></div>
<div style="left:465.20px;top:507px;font-size:15px;line-height:17px;color:#1a1a1a;-webkit-text-stroke:0.3px currentColor;"><b>?</b></div>
<div style="left:124.00px;top:380px;font-size:11px;line-height:14px;color:#111;-webkit-text-stroke:0.45px currentColor;"><i>x1</i></div>
<div style="left:204.80px;top:380px;font-size:11px;line-height:14px;color:#111;-webkit-text-stroke:0.45px currentColor;"><i>x2</i></div>
<div style="left:285.00px;top:380px;font-size:11px;line-height:14px;color:#111;-webkit-text-stroke:0.45px currentColor;"><i>x3</i></div>
<div style="left:657.50px;top:500px;font-size:12.6px;line-height:16px;"><i>NY</i></div>
<div style="left:768.00px;top:459px;font-size:12.6px;line-height:16px;"><i>NH</i></div>
<div style="left:904.00px;top:488px;font-size:12.6px;line-height:16px;"><i>MA</i></div>
<div style="left:767.20px;top:573px;font-size:12.6px;line-height:16px;"><i>CT</i></div>
<div style="left:851.70px;top:601px;font-size:12.6px;line-height:16px;"><i>RI</i></div>
<div style="left:696.00px;top:641px;font-size:12.6px;line-height:16px;"><i>NJ</i></div>
<div style="left:571.50px;top:755px;font-size:12.6px;line-height:16px;"><i>DC</i></div>
<div style="left:826.00px;top:705px;font-size:11.46px;line-height:14px;color:#555;"><i>Elsewhere in</i></div>
<div style="left:826.00px;top:717px;font-size:11.46px;line-height:14px;color:#555;"><i>the US</i></div>
</div>
</body>
</html>
